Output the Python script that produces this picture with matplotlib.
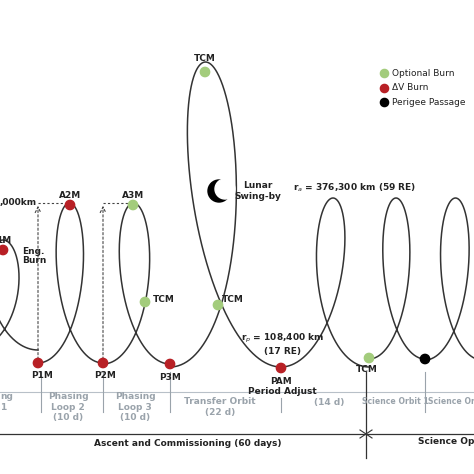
import numpy as np
import matplotlib.pyplot as plt
from matplotlib.patches import Circle

RED = "#b82025"
GREEN = "#a3cc7c"
GREY = "#9aa3ab"

# loops: perigee start x, perigee end x, bottom y, apex y, loop half-width w, apex shift
loop_x0 = [-28, 38, 103, 170, 281, 369, 425]
loop_x1 = [38, 103, 170, 281, 369, 425, 482]
loop_yb = [350, 363, 364, 367, 367, 359, 360]
loop_yt = [240, 203, 203, 62, 198, 198, 198]
loop_w = [30, 28, 30, 48, 33, 26, 27]
loop_s = [-2, -1, -3, -20, 8, -1, 2]

# burn markers (x, y, kind)
dots_x = [3, 38, 70, 103, 133, 145, 170, 205, 218, 281, 369, 425]
dots_y = [250, 363, 205, 363, 205, 302, 364, 72, 305, 368, 358, 359]
dots_c = [RED, RED, RED, RED, GREEN, GREEN, RED, GREEN, GREEN, RED, GREEN, "black"]

fig = plt.figure(figsize=(4.74, 4.74), dpi=100)
ax = fig.add_axes([0, 0, 1, 1])
ax.set_xlim(0, 474)
ax.set_ylim(474, 0)
ax.axis("off")

t = np.linspace(-np.pi, np.pi, 400)
for x0, x1, yb, yt, w, s in zip(loop_x0, loop_x1, loop_yb, loop_yt, loop_w, loop_s):
    xm, h = (x0 + x1) / 2, (x1 - x0) / 2
    x = xm + h * t / np.pi - w * np.sin(t) + s * (1 + np.cos(t)) / 2
    y = yb - (yb - yt) * (1 + np.cos(t)) / 2
    ax.plot(x, y, color="#333333", lw=1.1)

ax.scatter(dots_x, dots_y, c=dots_c, s=45, zorder=5)

# phasing arrows
for xa, xt in [(38, 70), (103, 133)]:
    ax.annotate("", xy=(xa, 203), xytext=(xa, 362),
                arrowprops=dict(arrowstyle="->", ls=(0, (2, 2)), color="#444", lw=0.8))
    ax.plot([xa, xt], [203, 203], ls=(0, (2, 2)), color="#444", lw=0.8)

b = dict(fontsize=6.5, fontweight="bold", color="#222", ha="center", va="center")
ax.text(0, 203, ",000km", **{**b, "ha": "left"})
ax.text(4, 240, "1M", **b)
ax.text(22, 256, "Eng.\nBurn", **{**b, "ha": "left", "linespacing": 0.9})
ax.text(70, 195, "A2M", **b)
ax.text(133, 195, "A3M", **b)
ax.text(205, 58, "TCM", **b)
ax.text(153, 300, "TCM", **{**b, "ha": "left"})
ax.text(222, 300, "TCM", **{**b, "ha": "left"})
ax.text(258, 191, "Lunar\nSwing-by", **b)
ax.text(355, 188, "r$_a$ = 376,300 km (59 RE)", **b)
ax.text(283, 344, "r$_p$ = 108,400 km\n(17 RE)", **b)
for lx, ly, s in [(42, 376, "P1M"), (105, 376, "P2M"), (170, 378, "P3M"), (367, 369, "TCM")]:
    ax.text(lx, ly, s, **b)
ax.text(281, 381, "PAM", **b)
ax.text(282, 392, "Period Adjust", **b)

# moon crescent
ax.add_patch(Circle((219, 191), 11, color="black", zorder=4))
ax.add_patch(Circle((225, 189), 10, color="white", zorder=4))

# legend
for i, (c, s) in enumerate([(GREEN, "Optional Burn"), (RED, "\u0394V Burn"), ("black", "Perigee Passage")]):
    ax.scatter([384], [73 + 14.5 * i], c=c, s=35)
    ax.text(392, 73 + 14.5 * i, s, fontsize=6.5, color="#222", va="center")

# timeline
ax.plot([0, 474], [392, 392], color="#b8c0c8", lw=0.8)
for vx in [41, 103, 170, 281, 425]:
    ax.plot([vx, vx], [372 if vx != 281 else 398, 412], color=GREY, lw=0.8)
g = dict(fontsize=6.5, fontweight="bold", color=GREY, ha="center", va="center")
ax.text(0, 402, "ng\n1", **{**g, "ha": "left"})
ax.text(68, 407, "Phasing\nLoop 2\n(10 d)", **g)
ax.text(135, 407, "Phasing\nLoop 3\n(10 d)", **g)
ax.text(220, 407, "Transfer Orbit\n(22 d)", **g)
ax.text(329, 402, "(14 d)", **g)
ax.text(395, 401, "Science Orbit 1", **{**g, "fontsize": 5.6})
ax.text(428, 401, "Science Orbit 2", **{**g, "fontsize": 5.6, "ha": "left"})

ax.plot([0, 474], [434, 434], color="#333", lw=0.9)
ax.plot([366, 366], [372, 458], color="#333", lw=0.9)
ax.plot([360, 366, 360], [430, 434, 438], color="#333", lw=0.8)
ax.plot([372, 366, 372], [430, 434, 438], color="#333", lw=0.8)
ax.text(188, 443, "Ascent and Commissioning (60 days)", **b)
ax.text(418, 442, "Science Operations", **{**b, "ha": "left"})

fig.savefig("out.png", dpi=100)
